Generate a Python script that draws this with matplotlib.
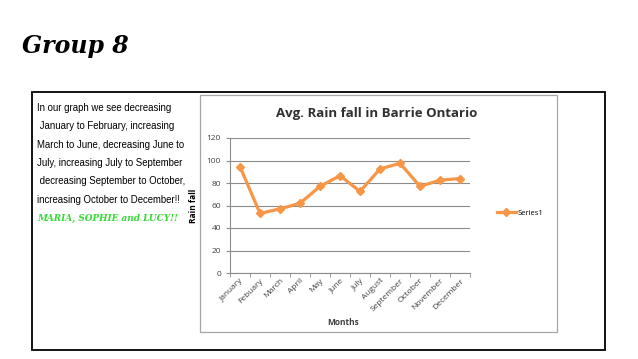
import matplotlib
matplotlib.use("Agg")
import matplotlib.pyplot as plt
from matplotlib.patches import Rectangle

months = ["January", "Febuary", "March", "April", "May", "June", "July",
          "August", "September", "October", "November", "December"]
rain = [94.5, 53, 57, 62, 77, 86.5, 72.5, 92.5, 97.5, 77, 82.5, 84]
y_ticks = [0, 20, 40, 60, 80, 100, 120]

note_lines = [
    "In our graph we see decreasing",
    " January to February, increasing",
    "March to June, decreasing June to",
    "July, increasing July to September",
    " decreasing September to October,",
    "increasing October to December!!",
]
names = "MARIA, SOPHIE and LUCY!!"

W, H = 638, 359
fig = plt.figure(figsize=(W / 100, H / 100), dpi=100)


def fx(x):
    return x / W


def fy(y):
    return 1 - y / H


# outer slide box and chart box
fig.patches.append(Rectangle((fx(32), fy(350)), fx(605) - fx(32), fy(92) - fy(350),
                             transform=fig.transFigure, fill=False, ec="black", lw=1.3))
fig.patches.append(Rectangle((fx(200), fy(332)), fx(557) - fx(200), fy(95) - fy(332),
                             transform=fig.transFigure, fill=False, ec="#a6a6a6", lw=0.9))

fig.text(fx(22), fy(46), "Group 8", fontsize=17, fontweight="heavy", style="italic",
         family="DejaVu Serif", va="center", ha="left")

for i, line in enumerate(note_lines):
    fig.text(fx(37), fy(108 + i * 18.3), line, fontsize=6.9, family="Liberation Sans",
             va="center", ha="left")
fig.text(fx(37), fy(218), names, fontsize=6.4, family="DejaVu Serif", style="italic",
         fontweight="bold", color="#33dd33", va="center", ha="left")

ax = fig.add_axes([fx(230), fy(273), fx(470) - fx(230), fy(138) - fy(273)])
x = list(range(len(months)))
ax.plot(x, rain, color="#f79646", lw=2.3, marker="D", ms=4.5, label="Series1", zorder=3)
ax.set_xlim(-0.5, len(months) - 0.5)
ax.set_ylim(0, 120)
ax.set_yticks(y_ticks)
ax.yaxis.grid(True, color="#8c8c8c", lw=0.8)
ax.set_axisbelow(True)
ax.set_xticks(x)
ax.set_xticklabels(months, rotation=45, ha="right", rotation_mode="anchor",
                   fontsize=6, color="#404040", family="Open Sans")
ax.set_xticks([i - 0.5 for i in range(len(months) + 1)], minor=True)
ax.tick_params(axis="x", which="major", length=0, pad=3)
ax.tick_params(axis="x", which="minor", length=3, color="#8c8c8c")
ax.tick_params(axis="y", length=3, color="#8c8c8c", labelsize=6, labelcolor="#404040")
for lab in ax.get_yticklabels():
    lab.set_family("Open Sans")
for s in ["top", "right"]:
    ax.spines[s].set_visible(False)
for s in ["left", "bottom"]:
    ax.spines[s].set_color("#8c8c8c")
    ax.spines[s].set_linewidth(0.8)

ax.set_xlabel("Months", fontsize=6, fontweight="bold", family="Open Sans", color="#404040")
ax.xaxis.set_label_coords(0.47, -0.33)
ax.set_ylabel("Rain fall", fontsize=6, fontweight="bold", family="Open Sans", labelpad=6)

fig.text(fx(377), fy(113), "Avg. Rain fall in Barrie Ontario", fontsize=9.5,
         fontweight="bold", family="Open Sans", color="#303030", ha="center", va="center")

ax.legend(loc="center left", bbox_to_anchor=(fx(490), fy(213)),
          bbox_transform=fig.transFigure, frameon=False,
          handlelength=2.5, handletextpad=0.2, prop={"family": "Open Sans", "size": 5.5})

fig.savefig("out.png", dpi=100)
